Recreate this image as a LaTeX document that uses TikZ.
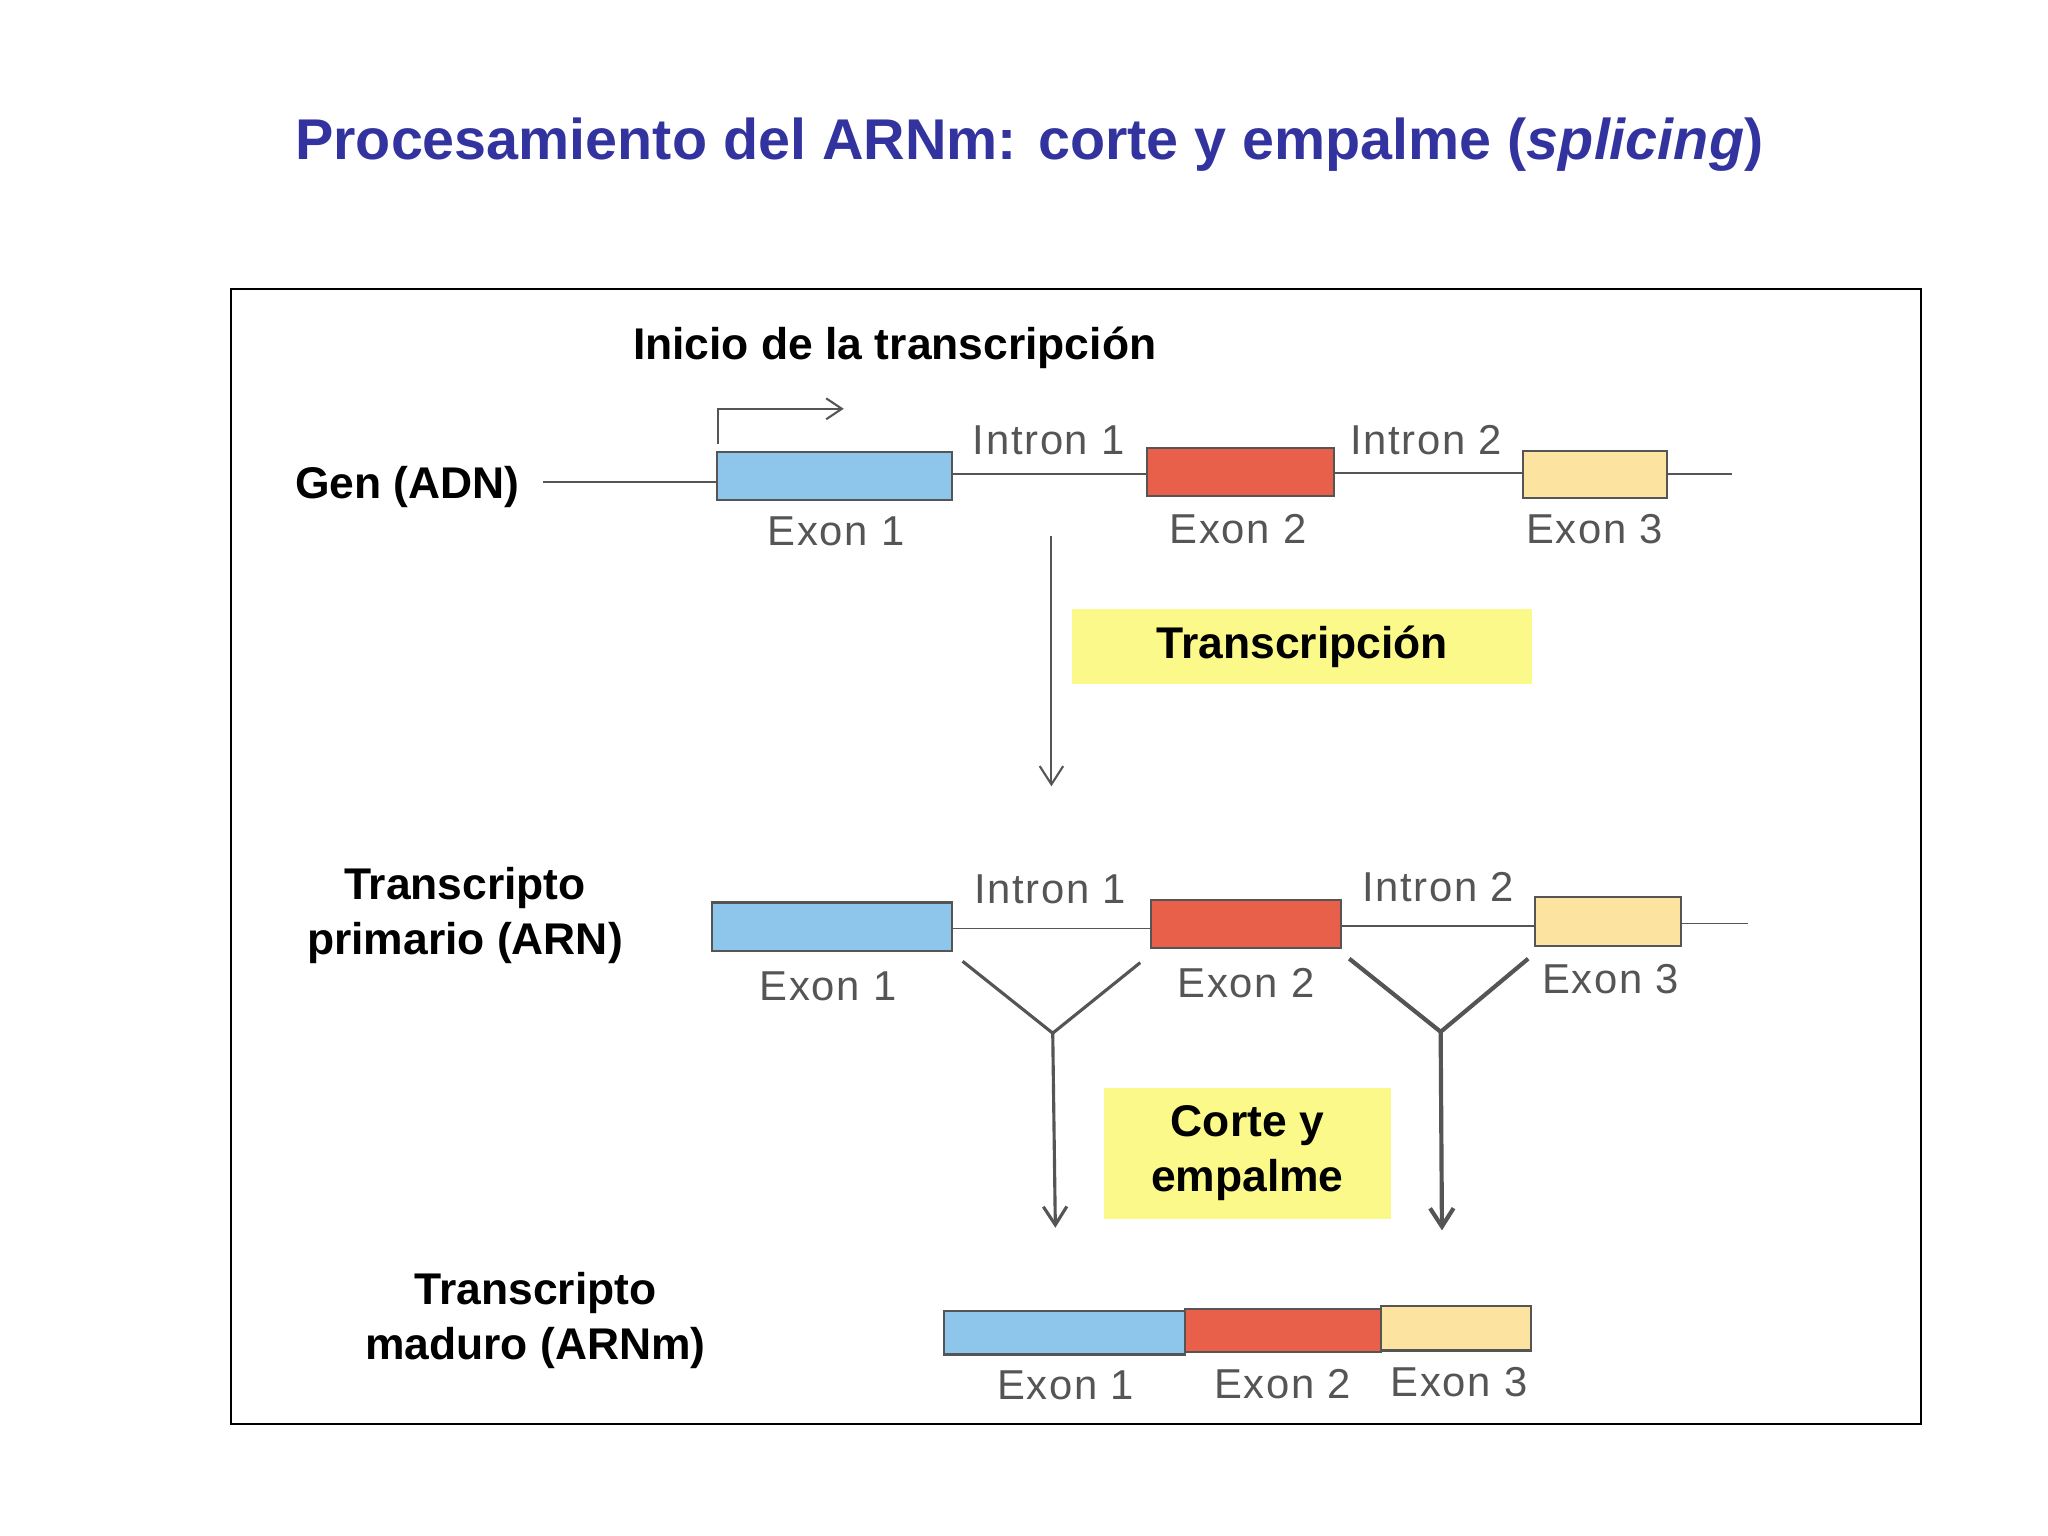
\documentclass[tikz,border=0pt]{standalone}
\usepackage{fontspec}
\setmainfont{Liberation Sans}
\usetikzlibrary{arrows.meta}
\definecolor{titlec}{HTML}{3333A0}
\definecolor{ex1}{HTML}{8EC5EA}
\definecolor{ex2}{HTML}{E8604A}
\definecolor{ex3}{HTML}{FCE3A0}
\definecolor{lab}{HTML}{FBF98A}
\definecolor{gr}{HTML}{555555}
\tikzset{
  box/.style={draw=gr, line width=0.8pt},
  dna/.style={draw=gr, line width=0.6pt},
  gl/.style={text=gr, font=\addfontfeatures{LetterSpace=4}\fontsize{16}{18}\selectfont},
  bl/.style={font=\bfseries\fontsize{17}{21}\selectfont, align=center},
  arr/.style={draw=gr, line width=0.8pt, -{Straight Barb[length=7pt,width=9pt]}},
}
\begin{document}
\begin{tikzpicture}[x=0.5pt,y=-0.5pt]
\useasboundingbox (0,0) rectangle (1568,1176);
\node[text=titlec, font=\bfseries\fontsize{22}{26}\selectfont] (title) at (788,111) {Procesamiento del ARNm: corte y empalme (\textit{splicing})};
\draw[line width=0.7pt] (177,221) rectangle (1471,1090);
% row 1
\node[bl] (inicio) at (685,266) {Inicio de la transcripción};
\node[bl] (gen) at (312,373) {Gen (ADN)};
\coordinate (g0) at (416,369);
\coordinate (g9) at (1326,363);
\draw[box, fill=ex1] (549,346) rectangle (729,383);
\draw[box, fill=ex2] (878,343) rectangle (1021,380);
\draw[box, fill=ex3] (1166,345) rectangle (1276,381);
\draw[dna] (g0) -- (549,369);
\draw[dna] (729,363) -- (878,363);
\draw[dna] (1021,362) -- (1166,362);
\draw[dna] (1276,363) -- (g9);
\coordinate (p0) at (550,340);
\coordinate (p1) at (646,313);
\draw[draw=gr, line width=0.8pt, -{Straight Barb[length=6pt,width=8pt]}] (p0) |- (p1);
\node[gl] at (803,337) {Intron 1};
\node[gl] at (1092,337) {Intron 2};
\node[gl] at (640,407) {Exon 1};
\node[gl] at (948,405) {Exon 2};
\node[gl] at (1221,405) {Exon 3};
\coordinate (d0) at (805,410);
\coordinate (d1) at (805,602);
\draw[arr] (d0) -- (d1);
\node[bl, fill=lab, minimum width=176pt, minimum height=29pt] (tr) at (997,495) {Transcripción};
% row 2
\node[bl] (prim) at (356,701) {Transcripto\\primario (ARN)};
\draw[box, fill=ex1] (545,691) rectangle (729,728);
\draw[box, fill=ex2] (881,689) rectangle (1027,726);
\draw[box, fill=ex3] (1175,687) rectangle (1287,724);
\draw[dna] (729,711) -- (881,711);
\draw[dna] (1027,709) -- (1175,709);
\draw[dna] (1287,707) -- (1338,707);
\node[gl] at (804,681) {Intron 1};
\node[gl] at (1101,679) {Intron 2};
\node[gl] at (634,755) {Exon 1};
\node[gl] at (954,753) {Exon 2};
\node[gl] at (1233,750) {Exon 3};
\coordinate (y1) at (806,791);
\coordinate (y2) at (1103,790);
\draw[draw=gr, line width=1.2pt] (737,736) -- (y1) -- (873,737);
\draw[draw=gr, line width=1.6pt] (1033,734) -- (y2) -- (1170,734);
\coordinate (e1) at (808,940);
\coordinate (e2) at (1104,942);
\draw[arr, line width=1.2pt] (y1) -- (e1);
\draw[arr, line width=1.6pt] (y2) -- (e2);
\node[bl, fill=lab, minimum width=110pt, minimum height=50pt] (ce) at (955,883) {Corte y\\empalme};
% row 3
\node[bl] (mad) at (410,1011) {Transcripto\\maduro (ARNm)};
\draw[box, fill=ex1] (723,1004) rectangle (907,1037);
\draw[box, fill=ex2] (907,1002) rectangle (1057,1035);
\draw[box, fill=ex3] (1057,1000) rectangle (1172,1034);
\node[gl] at (816,1061) {Exon 1};
\node[gl] at (982,1060) {Exon 2};
\node[gl] at (1117,1058) {Exon 3};
\end{tikzpicture}
\end{document}
